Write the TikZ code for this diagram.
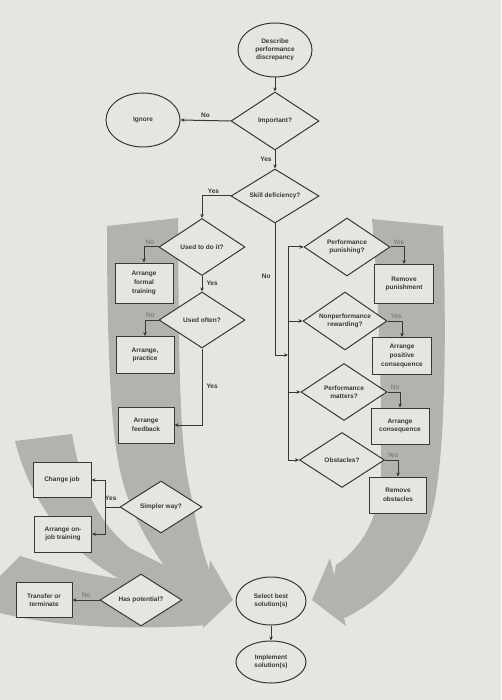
\documentclass[tikz,border=0pt]{standalone}
\usepackage{fontspec}
\setmainfont{Liberation Sans}
\usepackage{xcolor}
\usepackage{tikz}
\usetikzlibrary{positioning,shapes.geometric,arrows.meta}
\definecolor{paper}{HTML}{E5E5E2}
\definecolor{band}{HTML}{B2B2B0}
\definecolor{ink}{HTML}{383838}
\definecolor{inksub}{HTML}{6C6C6A}
\tikzset{
  flowline/.style={draw=ink, line width=1pt},
  flowarrow/.style={flowline, -{Stealth[length=4pt,width=3.6pt]}},
  decision/.style={diamond, aspect=1.6, draw=ink, line width=1pt, fill=paper, inner sep=0pt, minimum width=86pt, minimum height=57pt, font=\fontsize{6.5}{7.8}\selectfont\bfseries\color{ink}, align=center},
  action/.style={rectangle, draw=ink, line width=1pt, fill=paper, inner sep=1pt, minimum width=58pt, minimum height=37pt, font=\fontsize{6.5}{8.6}\selectfont\bfseries\color{ink}, align=center},
  terminal/.style={ellipse, draw=ink, line width=1pt, fill=paper, inner sep=0pt, minimum width=74pt, minimum height=54pt, font=\fontsize{6.5}{7.8}\selectfont\bfseries\color{ink}, align=center},
  answer/.style={font=\fontsize{6.5}{8}\selectfont\bfseries\color{ink}, inner sep=1pt},
  answersub/.style={font=\fontsize{6.5}{8}\selectfont\color{inksub}, inner sep=1pt},
  sweep/.style={fill=band, draw=none}
}

\begin{document}
\begin{tikzpicture}[x=1pt, y=-1pt]

\fill[paper] (0,0) rectangle (501,700);

% Grey sweeps, left side
\fill[sweep] (107,226) -- (178,218) .. controls (179,330) and (178,440) .. (190,490) .. controls (196,520) and (200,545) .. (208,566) -- (215,600) -- (185,595) .. controls (160,560) and (128,520) .. (118,460) .. controls (110,420) and (107,330) .. cycle;
\fill[sweep] (15,441) -- (72,434) .. controls (80,480) and (95,520) .. (130,548) -- (190,578) -- (205,605) -- (150,592) .. controls (90,572) and (35,520) .. cycle;
\fill[sweep] (0,576) -- (20,556) .. controls (70,572) and (140,586) .. (207,584) -- (206,625) .. controls (140,630) and (60,628) .. (0,613) -- cycle;
\fill[sweep] (210,560) -- (233,600) -- (203,628) -- cycle;

% Grey sweep, right side
\fill[sweep] (372,219) -- (443,226) .. controls (447,350) and (445,470) .. (430,520) .. controls (415,570) and (380,600) .. (345,618) -- (330,600) -- (336,565) .. controls (365,545) and (380,515) .. (381,470) .. controls (382,400) and (379,300) .. cycle;
\fill[sweep] (330,558) -- (312,600) -- (346,626) -- cycle;

% Top of the chart
\node[terminal] (describe) at (275,50) {Describe\\performance\\discrepancy};
\node[decision, minimum width=88pt, minimum height=58pt] (important) at (275,121) {Important?};
\node[terminal] (ignore) at (143,120) {Ignore};
\node[decision, minimum width=88pt, minimum height=54pt] (skill) at (275,196) {Skill deficiency?};

% Skill branch
\node[decision] (usedto) at (202,247) {Used to do it?};
\node[action, minimum height=40pt] (formal) at (144,283) {Arrange\\formal\\training};
\node[decision, minimum height=56pt] (usedoften) at (202,320) {Used often?};
\node[action] (practice) at (145,355) {Arrange,\\practice};
\node[action, minimum width=56pt, minimum height=36pt] (feedback) at (146,425) {Arrange\\feedback};

% Non-skill branch
\node[decision, minimum height=58pt] (punishing) at (347,247) {Performance\\punishing?};
\node[decision, minimum width=84pt, minimum height=58pt] (rewarding) at (345,321) {Nonperformance\\rewarding?};
\node[decision] (matters) at (344,392) {Performance\\matters?};
\node[decision, minimum width=85pt, minimum height=55pt] (obstacles) at (342,460) {Obstacles?};

\node[action, minimum width=59pt, minimum height=39pt] (rmpunish) at (404,284) {Remove\\punishment};
\node[action, minimum width=59pt] (posconseq) at (402,356) {Arrange\\positive\\consequence};
\node[action, minimum height=36pt] (conseq) at (400,426) {Arrange\\consequence};
\node[action, minimum width=57pt, minimum height=36pt] (rmobst) at (398,495) {Remove\\obstacles};

% Lower left
\node[decision, minimum width=82pt, minimum height=52pt] (simpler) at (161,507) {Simpler way?};
\node[action, minimum height=35pt] (changejob) at (62,480) {Change job};
\node[action, minimum width=57pt, minimum height=36pt] (onjob) at (63,534) {Arrange on-\\job training};
\node[decision, minimum width=82pt, minimum height=52pt] (potential) at (141,600) {Has potential?};
\node[action, minimum width=56pt, minimum height=35pt] (transfer) at (44,600) {Transfer or\\terminate};

% Solutions
\node[terminal, minimum width=70pt, minimum height=48pt] (select) at (271,601) {Select best\\solution(s)};
\node[terminal, minimum width=70pt, minimum height=42pt] (implement) at (271,662) {Implement\\solution(s)};

\coordinate (bus) at (288,355);
\coordinate (split) at (105,507);

% Connectors
\draw[flowarrow] (describe.south) -- (important.north);
\draw[flowarrow] (important.west) -- node[answer, above=1pt] {No} (ignore.east);
\draw[flowarrow] (important.south) -- node[answer, left=2pt] {Yes} (skill.north);
\draw[flowarrow] (skill.west) -| node[answer, pos=0.3, above=1pt] {Yes} (usedto.north);
\draw[flowarrow] (usedto.west) -| node[answersub, pos=0.3, above=1pt] {No} (formal.north);
\draw[flowarrow] (usedto.south) -- node[answer, right=3pt] {Yes} (usedoften.north);
\draw[flowarrow] (usedoften.west) -| node[answersub, pos=0.3, above=1pt] {No} (practice.north);
\draw[flowarrow] (usedoften.south) |- node[answer, pos=0.25, right=3pt] {Yes} (feedback.east);

\draw[flowarrow] (skill.south) |- node[answer, pos=0.2, left=3pt] {No} (bus);
\draw[flowline] (bus |- punishing.west) -- (bus |- obstacles.west);
\draw[flowarrow] (bus |- punishing.west) -- (punishing.west);
\draw[flowarrow] (bus |- rewarding.west) -- (rewarding.west);
\draw[flowarrow] (bus |- matters.west) -- (matters.west);
\draw[flowarrow] (bus |- obstacles.west) -- (obstacles.west);

\draw[flowarrow] (punishing.east) -| node[answersub, pos=0.3, above=1pt] {Yes} (rmpunish.north);
\draw[flowarrow] (rewarding.east) -| node[answersub, pos=0.3, above=1pt] {Yes} (posconseq.north);
\draw[flowarrow] (matters.east) -| node[answersub, pos=0.3, above=1pt] {No} (conseq.north);
\draw[flowarrow] (obstacles.east) -| node[answersub, pos=0.3, above=1pt] {Yes} (rmobst.north);

\draw[flowline] (simpler.west) -- node[answer, pos=0.6, above=5pt] {Yes} (split);
\draw[flowarrow] (split) |- (changejob.east);
\draw[flowarrow] (split) |- (onjob.east);
\draw[flowarrow] (potential.west) -- node[answersub, above=1pt] {No} (transfer.east);

\draw[flowarrow] (select.south) -- (implement.north);

\end{tikzpicture}
\end{document}
